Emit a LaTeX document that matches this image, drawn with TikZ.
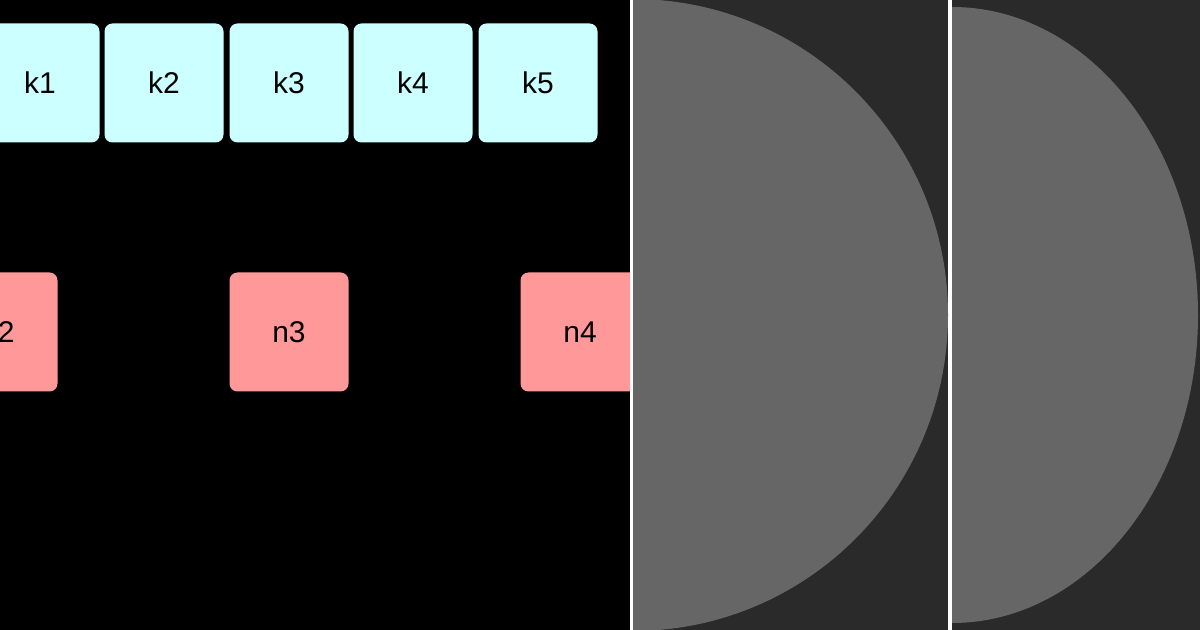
\documentclass[tikz,border=0pt]{standalone}
\usepackage{fontspec}
\setmainfont{Liberation Sans}
\usetikzlibrary{positioning}
\definecolor{keycyan}{HTML}{CCFFFF}
\definecolor{nodepink}{HTML}{FF9999}
\definecolor{panelgray}{HTML}{2A2A2A}
\definecolor{halfgray}{HTML}{666666}
\begin{document}
\begin{tikzpicture}[x=0.5pt, y=-0.5pt,
    keybox/.style={rectangle, rounded corners=4pt, fill=keycyan, minimum width=59.5pt, minimum height=59.5pt, inner sep=0pt, font=\fontsize{15pt}{18pt}\selectfont},
    nbox/.style={keybox, fill=nodepink}]
    \useasboundingbox (0,0) rectangle (1200,630);
    \fill[white] (0,0) rectangle (1200,630);
    \begin{scope}
        \clip (0,0) rectangle (630,630);
        \fill[black] (0,0) rectangle (630,630);
        % key row
        \node[keybox] (k1) at (40,83) {k1};
        \foreach \i/\x in {2/164,3/289,4/413,5/538}
            \node[keybox] (k\i) at (\x,83) {k\i};
        % node row
        \node[nbox] (n2) at (-2,332) {n2};
        \node[nbox] (n3) at (289,332) {n3};
        \node[nbox] (n4) at (580,332) {n4};
    \end{scope}
    % right panels
    \fill[panelgray] (633,0) rectangle (948,630);
    \fill[panelgray] (952,0) rectangle (1200,630);
    \begin{scope}
        \clip (633,0) rectangle (948,630);
        \fill[halfgray] (633,315) ellipse [x radius=315, y radius=316];
    \end{scope}
    \begin{scope}
        \clip (952,0) rectangle (1200,630);
        \fill[halfgray] (952,315) ellipse [x radius=246, y radius=308];
    \end{scope}
\end{tikzpicture}
\end{document}
